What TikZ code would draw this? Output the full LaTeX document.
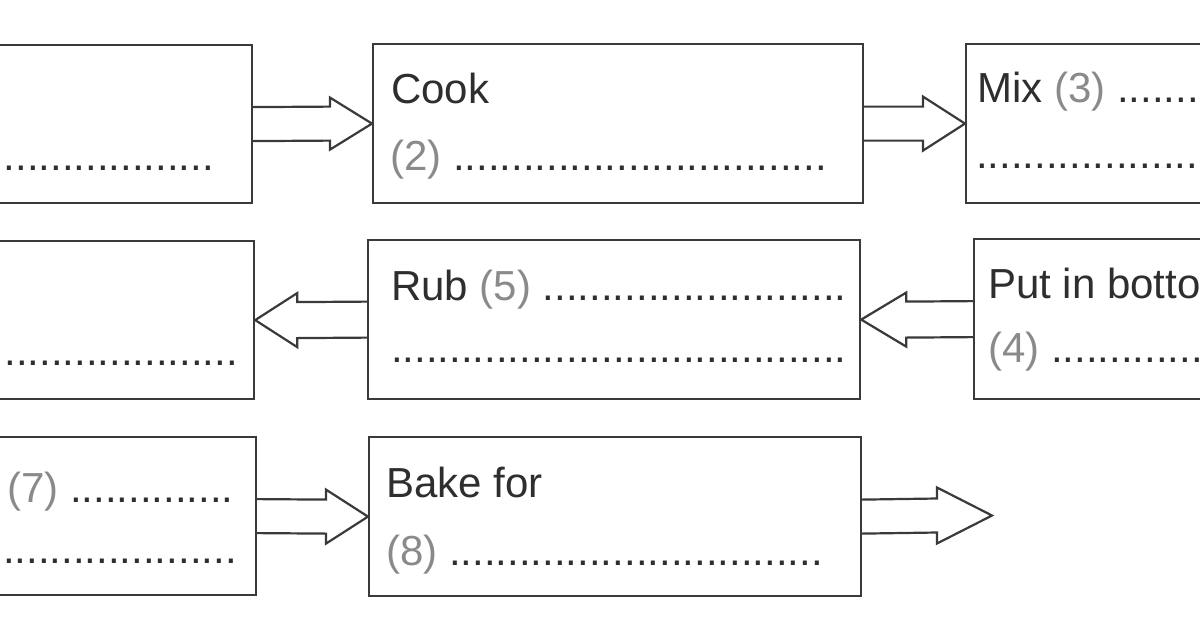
\documentclass[tikz,border=0pt]{standalone}
\usepackage{fontspec}
\setmainfont{Liberation Sans}
\usetikzlibrary{calc}
\definecolor{ink}{HTML}{2E2E2E}
\definecolor{linec}{HTML}{3A3A3A}
\definecolor{numc}{HTML}{8A8A8A}
\begin{document}
\begin{tikzpicture}[x=1pt,y=-1pt,
  box/.style={draw=linec, line width=2.2pt, rectangle, inner sep=0pt, anchor=north west},
  blockarrow/.style={draw=linec, line width=2.2pt, line join=miter},
  txt/.style={anchor=base west, inner sep=0pt, text=ink, font=\fontsize{42}{50}\selectfont},
  txte/.style={txt, anchor=base east},
  num/.style={text=numc}]
\useasboundingbox (0,0) rectangle (1200,630);
\fill[white] (0,0) rectangle (1200,630);
\clip (0,0) rectangle (1200,630);
% boxes
\node[box, minimum width=271pt, minimum height=158pt] (A) at (-20,44) {};
\node[box, minimum width=490pt, minimum height=159pt] (B) at (372,43) {};
\node[box, minimum width=260pt, minimum height=159pt] (C) at (965,43) {};
\node[box, minimum width=273pt, minimum height=158pt] (D) at (-20,240) {};
\node[box, minimum width=492pt, minimum height=159pt] (E) at (367,239) {};
\node[box, minimum width=250pt, minimum height=160pt] (F) at (973,238) {};
\node[box, minimum width=275pt, minimum height=158pt] (G) at (-20,436) {};
\node[box, minimum width=492pt, minimum height=159pt] (H) at (368,436) {};
\coordinate (out) at (992,515.5);
% block arrows
\draw[blockarrow] ($(A.east)+(0,-17)$) -- ($(B.west)+(-42,-17)$) -- ($(B.west)+(-42,-26)$) -- (B.west)
  -- ($(B.west)+(-42,26)$) -- ($(B.west)+(-42,17)$) -- ($(A.east)+(0,17)$);
\draw[blockarrow] ($(B.east)+(0,-17)$) -- ($(C.west)+(-42,-17)$) -- ($(C.west)+(-42,-27)$) -- (C.west)
  -- ($(C.west)+(-42,27)$) -- ($(C.west)+(-42,17)$) -- ($(B.east)+(0,17)$);
\draw[blockarrow] ($(F.west)+(0,-18)$) -- ($(E.east)+(45,-18)$) -- ($(E.east)+(45,-27)$) -- (E.east)
  -- ($(E.east)+(45,27)$) -- ($(E.east)+(45,18)$) -- ($(F.west)+(0,18)$);
\draw[blockarrow] ($(E.west)+(0,-18)$) -- ($(D.east)+(42,-18)$) -- ($(D.east)+(42,-27)$) -- (D.east)
  -- ($(D.east)+(42,27)$) -- ($(D.east)+(42,18)$) -- ($(E.west)+(0,18)$);
\draw[blockarrow] ($(G.east)+(0,-17)$) -- ($(H.west)+(-42,-17)$) -- ($(H.west)+(-42,-27)$) -- (H.west)
  -- ($(H.west)+(-42,27)$) -- ($(H.west)+(-42,17)$) -- ($(G.east)+(0,17)$);
\draw[blockarrow] ($(H.east)+(0,-17)$) -- ($(out)+(-55,-17)$) -- ($(out)+(-55,-28)$) -- (out)
  -- ($(out)+(-55,28)$) -- ($(out)+(-55,17)$) -- ($(H.east)+(0,17)$);
% texts
\node[txte] (a2) at (214,170) {....................};
\node[txt] (b1) at (391,103) {Cook};
\node[txt] (b2) at (390,170) {{\color{numc}(2)} ................................};
\node[txt] (c1) at (977,102) {Mix {\color{numc}(3)} ............};
\node[txt] (c2) at (976,168) {......................};
\node[txte] (d2) at (238,365) {.........................};
\node[txt] (e1) at (391,300) {Rub {\color{numc}(5)} ..........................};
\node[txt] (e2) at (391,362) {.......................................};
\node[txt] (f1) at (988,298) {Put in bottom};
\node[txt] (f2) at (988,362) {{\color{numc}(4)} ..............};
\node[txt] (g1) at (7,502) {{\color{numc}(7)} ..............};
\node[txt] (g2) at (3,563) {....................};
\node[txt] (h1) at (386,497) {Bake for};
\node[txt] (h2) at (386,565) {{\color{numc}(8)} ................................};
\end{tikzpicture}
\end{document}
